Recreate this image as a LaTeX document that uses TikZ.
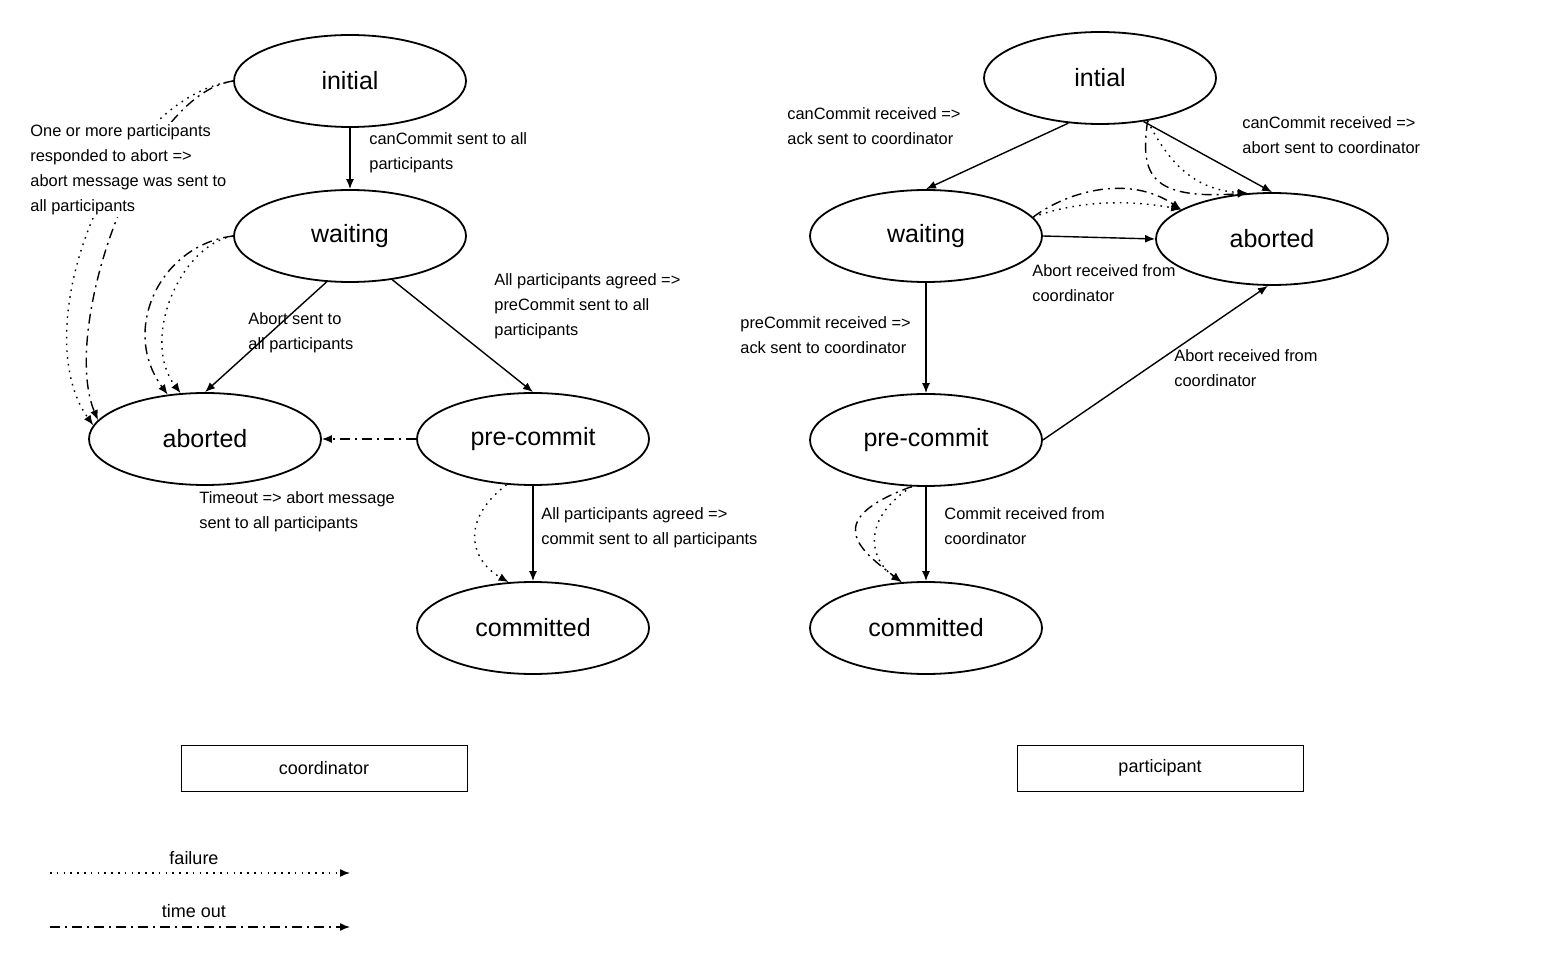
\documentclass[tikz,border=0pt]{standalone}
\usepackage{fontspec}
\setmainfont{Liberation Sans}
\usetikzlibrary{shapes.geometric,arrows.meta}
\begin{document}
\begin{tikzpicture}[x=0.5pt,y=-0.5pt,
 st/.style={ellipse,draw,line width=0.9pt,minimum width=116pt,minimum height=46pt,inner sep=0pt,font=\fontsize{12.5}{14}\selectfont},
 lb/.style={align=left,anchor=north west,font=\fontsize{8.2}{12.5}\selectfont,inner sep=1pt},
 ar/.style={line width=0.7pt,-{Latex[length=5pt,width=4pt]}},
 fl/.style={ar,dash pattern=on 0.8pt off 2.6pt},
 to/.style={ar,dash pattern=on 5pt off 2.5pt on 1pt off 2.5pt},
 box/.style={draw,line width=0.5pt,minimum width=143pt,minimum height=23pt,font=\fontsize{9}{11}\selectfont}]
\useasboundingbox (0,0) rectangle (1562,967);
% coordinator
\node[st] (ci) at (350,81) {initial};
\node[st] (cw) at (350,236) {waiting};
\node[st] (ca) at (205,439) {aborted};
\node[st] (cp) at (533,439) {pre-commit};
\node[st] (cc) at (533,628) {committed};
% failure/time-out curves
\draw[fl] (ci.west) .. controls (110,100) and (25,330) .. (ca.173);
\draw[to] (ci.west) .. controls (140,95) and (60,330) .. (ca.170);
\draw[to] (cw.west) .. controls (160,245) and (120,330) .. (ca.130);
\draw[fl] (cw.west) .. controls (180,245) and (140,340) .. (ca.118);
\draw[to] (cp.west) -- (ca.east);
\draw[fl] (cp.240) .. controls (460,520) and (470,560) .. (cc.118);
% solid
\draw[ar] (ci) -- (cw);
\draw[ar] (cw.243) -- (ca.north);
\draw[ar] (cw.314) -- (cp.north);
\draw[ar] (cp) -- (cc);
% labels
\node[lb,fill=white] (l1) at (28,122) {One or more participants\\responded to abort =>\\abort message was sent to\\all participants};
\node[lb] (l2) at (367,130) {canCommit sent to all\\participants};
\node[lb] (l3) at (246,310) {Abort sent to\\all participants};
\node[lb] (l4) at (492,271) {All participants agreed =>\\preCommit sent to all\\participants};
\node[lb] (l5) at (197,489) {Timeout => abort message\\sent to all participants};
\node[lb] (l6) at (539,505) {All participants agreed =>\\commit sent to all participants};
% participant
\node[st] (pi) at (1100,78) {intial};
\node[st] (pw) at (926,236) {waiting};
\node[st] (pa) at (1272,239) {aborted};
\node[st] (pp) at (926,440) {pre-commit};
\node[st] (pc) at (926,628) {committed};
\draw[ar] (pi.235) -- (pw.north);
\draw[ar] (pi.315) -- (pa.north);
\draw[ar] (pw.east) -- (pa.west);
\draw[ar] (pw) -- (pp);
\draw[ar] (pp.east) -- (pa.265);
\draw[ar] (pp) -- (pc);
\draw[to] (pi.318) .. controls (1140,175) and (1150,200) .. (pa.118);
\draw[fl] (pi.318) .. controls (1172,170) and (1200,190) .. (pa.118);
\draw[to] (pw.10) .. controls (1070,190) and (1130,175) .. (pa.162);
\draw[fl] (pw.10) .. controls (1080,200) and (1130,200) .. (pa.162);
\draw[to] (pp.253) .. controls (820,520) and (860,550) .. (pc.118);
\draw[fl] (pp.253) .. controls (860,520) and (870,560) .. (pc.118);
\node[lb] (m1) at (785,105) {canCommit received =>\\ack sent to coordinator};
\node[lb] (m2) at (1240,114) {canCommit received =>\\abort sent to coordinator};
\node[lb] (m3) at (1030,262) {Abort received from\\coordinator};
\node[lb] (m4) at (738,314) {preCommit received =>\\ack sent to coordinator};
\node[lb] (m5) at (1172,347) {Abort received from\\coordinator};
\node[lb] (m6) at (942,505) {Commit received from\\coordinator};
% boxes
\node[box] (bc) at (324,768) {coordinator};
\node[box] (bp) at (1160,768) {participant};
% legend
\coordinate (f1) at (50,873); \coordinate (f2) at (350,873);
\coordinate (t1) at (50,927); \coordinate (t2) at (350,927);
\draw[fl] (f1) -- (f2);
\draw[to] (t1) -- (t2);
\node[font=\fontsize{9}{11}\selectfont] (lf) at (194,858) {failure};
\node[font=\fontsize{9}{11}\selectfont] (lt) at (194,911) {time out};
\end{tikzpicture}
\end{document}
